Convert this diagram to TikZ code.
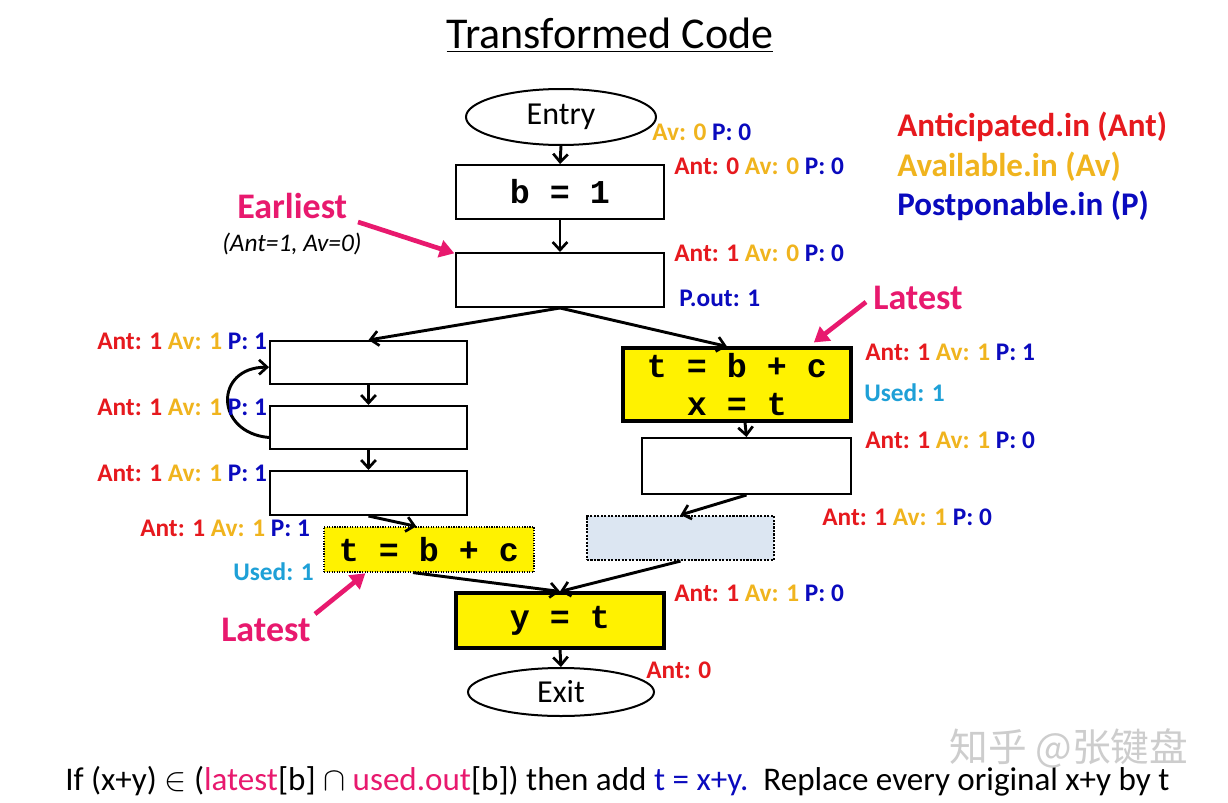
\documentclass[tikz,border=0pt]{standalone}
\usepackage{fontspec}
\setmainfont{Carlito}
\newfontfamily\codefont{Liberation Mono}
\newfontfamily\cjkfont{Noto Sans CJK SC}
\usetikzlibrary{arrows.meta,shapes.geometric}
\definecolor{antred}{RGB}{230,25,30}
\definecolor{avgold}{RGB}{240,180,30}
\definecolor{pblue}{RGB}{10,10,190}
\definecolor{usedcyan}{RGB}{30,160,215}
\definecolor{hotpink}{RGB}{232,25,110}
\definecolor{paleblue}{RGB}{220,230,242}
\definecolor{wmgray}{RGB}{205,205,205}
\newcommand{\LAnt}[1]{\textcolor{antred}{Ant: #1}}
\newcommand{\LAv}[1]{\textcolor{avgold}{Av: #1}}
\newcommand{\LPp}[1]{\textcolor{pblue}{P: #1}}
\tikzset{
  blk/.style={draw, line width=1.5pt, inner sep=0pt, fill=white},
  thk/.style={draw, line width=2.3pt, inner sep=0pt, fill=yellow},
  oval/.style={draw, ellipse, line width=1.5pt, inner sep=0pt, font=\fontsize{24}{28}\selectfont},
  code/.style={font=\codefont\bfseries\fontsize{25}{30}\selectfont},
  lab/.style={anchor=west, inner sep=0pt, font=\bfseries\fontsize{19}{21}\selectfont},
  legend/.style={anchor=west, inner sep=0pt, font=\bfseries\fontsize{24.8}{28}\selectfont},
  big/.style={anchor=west, inner sep=0pt, text=hotpink, font=\bfseries\fontsize{27}{30}\selectfont},
  flow/.style={line width=2.2pt, -{Straight Barb[length=6pt,width=11pt,line width=2pt]}},
  pointer/.style={line width=3.5pt, hotpink, -{Triangle[length=11pt,width=13pt]}},
}
\begin{document}
\begin{tikzpicture}[x=0.75pt,y=-0.75pt]
\useasboundingbox (0,0) rectangle (1228,803);
\fill[white] (0,0) rectangle (1228,803);
% title
\node[inner sep=0pt, font=\fontsize{33}{38}\selectfont] (title) at (610,35) {\underline{Transformed Code}};
% nodes
\node[oval, minimum width=142.5pt, minimum height=42pt] (entry) at (561,117) {Entry};
\node[blk, minimum width=156pt, minimum height=40.5pt, code] (b1) at (560,192) {b = 1};
\node[blk, minimum width=156pt, minimum height=40.5pt] (b2) at (560,280) {};
\node[blk, minimum width=147.75pt, minimum height=32.25pt] (L1) at (368.5,362.5) {};
\node[blk, minimum width=147.75pt, minimum height=32.25pt] (L2) at (368.5,427.5) {};
\node[blk, minimum width=147.75pt, minimum height=33pt] (L3) at (368.5,493) {};
\node[draw, densely dotted, line width=0.9pt, fill=yellow, inner sep=0pt, minimum width=157.5pt, minimum height=33.75pt, code] (dy) at (429,549.5) {t = b + c};
\node[thk, minimum width=171pt, minimum height=54.75pt, code, align=center] (RY) at (737,384.5) {t = b + c\\[-2pt]x = t};
\node[blk, minimum width=156.75pt, minimum height=42pt] (R2) at (746.5,466) {};
\node[draw, densely dotted, line width=1.6pt, fill=paleblue, inner sep=0pt, minimum width=140.25pt, minimum height=33pt] (bd) at (680.5,538) {};
\node[thk, minimum width=156pt, minimum height=41.25pt, code] (yt) at (560,620.5) {y = t};
\node[oval, minimum width=139.5pt, minimum height=36pt] (exit) at (561,692) {Exit};
% flow edges
\draw[flow] (entry.south) -- (b1.north);
\draw[flow] (b1.south) -- (b2.north);
\draw[flow] (b2.south) -- (L1.north);
\draw[flow] (b2.south) -- ([xshift=-7.5pt]RY.north);
\draw[flow] (L1.south) -- (L2.north);
\draw[flow] (L2.south) -- (L3.north);
\draw[flow] ([yshift=-7.5pt]L2.west) to[out=175,in=180,looseness=2] ([yshift=-3.5pt]L1.west);
\draw[flow] (L3.south) -- ([xshift=-9.5pt]dy.north);
\draw[flow] ([xshift=-12pt]dy.south) -- (yt.north);
\draw[flow] (bd.south) -- (yt.north);
\draw[flow] ([xshift=6pt]RY.south) -- (R2.north);
\draw[flow] (R2.south) -- (bd.north);
\draw[flow] (yt.south) -- (exit.north);
% data-flow labels
\node[lab] (l0) at (652,132) {\LAv{0}\ \LPp{0}};
\node[lab] (l1) at (674,166) {\LAnt{0}\ \LAv{0}\ \LPp{0}};
\node[lab] (l2) at (674,253) {\LAnt{1}\ \LAv{0}\ \LPp{0}};
\node[lab, text=pblue] (l3) at (679,298) {P.out: 1};
\node[lab] (l4) at (97,341) {\LAnt{1}\ \LAv{1}\ \LPp{1}};
\node[lab] (l5) at (97,407) {\LAnt{1}\ \LAv{1}\ \LPp{1}};
\node[lab] (l6) at (97,473) {\LAnt{1}\ \LAv{1}\ \LPp{1}};
\node[lab] (l7) at (140,528) {\LAnt{1}\ \LAv{1}\ \LPp{1}};
\node[lab, text=usedcyan] (l8) at (233,572) {Used: 1};
\node[lab] (l9) at (865,352) {\LAnt{1}\ \LAv{1}\ \LPp{1}};
\node[lab, text=usedcyan] (l10) at (864,393) {Used: 1};
\node[lab] (l11) at (865,440) {\LAnt{1}\ \LAv{1}\ \LPp{0}};
\node[lab] (l12) at (822,517) {\LAnt{1}\ \LAv{1}\ \LPp{0}};
\node[lab] (l13) at (674,593) {\LAnt{1}\ \LAv{1}\ \LPp{0}};
\node[lab] (l14) at (646,670) {\LAnt{0}};
% legend
\node[legend, text=antred] (g1) at (897,127) {Anticipated.in (Ant)};
\node[legend, text=avgold] (g2) at (897,167) {Available.in (Av)};
\node[legend, text=pblue] (g3) at (897,206) {Postponable.in (P)};
% annotations
\node[big] (ear) at (237,206) {Earliest};
\node[anchor=west, inner sep=0pt, font=\itshape\fontsize{19}{22}\selectfont] (earc) at (222,244) {(Ant=1, Av=0)};
\node[big] (lat1) at (873,298) {Latest};
\node[big] (lat2) at (221,630) {Latest};
\coordinate (p1) at (358,222);
\coordinate (p2) at (866,302);
\coordinate (p3) at (315,614);
\draw[pointer] (p1) -- ([xshift=-0.5pt,yshift=-1pt]b2.north west);
\draw[pointer] (p2) -- ([xshift=-29pt,yshift=3pt]RY.north east);
\draw[pointer] (p3) -- ([xshift=31.5pt,yshift=-0.5pt]dy.south west);
% bottom sentence
\node[anchor=west, inner sep=0pt, font=\fontsize{24.8}{28}\selectfont] (bottom) at (65,781) {If (x+y) $\in$ (\textcolor{hotpink}{latest}[b] $\cap$ \textcolor{hotpink}{used.out}[b]) then add \textcolor{pblue}{t = x+y.}\ \ Replace every original x+y by t};
% watermark
\node[inner sep=0pt, text=wmgray, font=\cjkfont\fontsize{29}{32}\selectfont] (wm) at (1069,748) {知乎 @张键盘};
\end{tikzpicture}
\end{document}
